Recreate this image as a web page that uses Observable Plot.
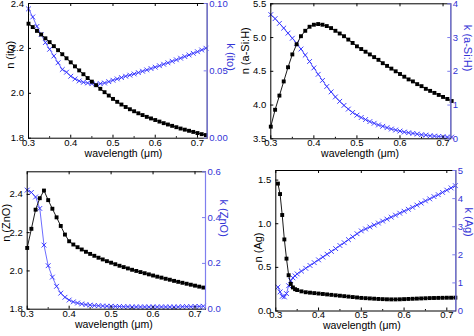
<!DOCTYPE html>
<html><head><meta charset="utf-8">
<script src="https://cdn.jsdelivr.net/npm/d3@7"></script>
<script src="https://cdn.jsdelivr.net/npm/@observablehq/plot@0.6"></script>
<style>
html,body{margin:0;padding:0;background:#fff;}
#fig{position:relative;width:474px;height:336px;overflow:hidden;background:#fff;}
#fig > div{position:absolute;width:237px;height:168px;}
#fig svg{display:block;}
</style></head><body><div id="fig"></div>
<script>
// wavelength (µm) shared by ITO, a-Si:H and ZnO
const wavelength = [0.30,0.31,0.32,0.33,0.34,0.35,0.36,0.37,0.38,0.39,0.40,0.41,0.42,0.43,0.44,0.45,0.46,0.47,0.48,0.49,0.50,0.51,0.52,0.53,0.54,0.55,0.56,0.57,0.58,0.59,0.60,0.61,0.62,0.63,0.64,0.65,0.66,0.67,0.68,0.69,0.70,0.71,0.72];
// wavelength (µm) for Ag
const wavelengthAg = [0.305,0.31,0.315,0.32,0.325,0.33,0.335,0.34,0.345,0.35,0.36,0.37,0.38,0.39,0.40,0.41,0.42,0.43,0.44,0.45,0.46,0.47,0.48,0.49,0.50,0.51,0.52,0.53,0.54,0.55,0.56,0.57,0.58,0.59,0.60,0.61,0.62,0.63,0.64,0.65,0.66,0.67,0.68,0.69,0.70,0.71,0.72];

const nITO = [2.310,2.295,2.278,2.262,2.245,2.228,2.210,2.192,2.174,2.156,2.138,2.120,2.102,2.085,2.068,2.052,2.036,2.020,2.005,1.990,1.975,1.962,1.950,1.939,1.929,1.920,1.911,1.903,1.895,1.888,1.881,1.874,1.867,1.861,1.855,1.849,1.843,1.838,1.833,1.828,1.823,1.818,1.814];
const kITO = [0.096,0.090,0.083,0.077,0.071,0.066,0.061,0.056,0.051,0.049,0.046,0.044,0.0425,0.0415,0.041,0.0405,0.040,0.0405,0.041,0.042,0.043,0.044,0.045,0.046,0.0468,0.0477,0.0487,0.0497,0.0507,0.0517,0.0527,0.0538,0.0549,0.056,0.0571,0.0582,0.0594,0.0606,0.0618,0.063,0.0642,0.0655,0.0668];

const nASi = [3.68,3.93,4.14,4.35,4.56,4.75,4.90,5.02,5.10,5.16,5.19,5.20,5.19,5.17,5.14,5.10,5.06,5.02,4.97,4.92,4.87,4.83,4.79,4.75,4.71,4.67,4.62,4.58,4.54,4.50,4.46,4.42,4.38,4.35,4.31,4.28,4.24,4.21,4.18,4.15,4.12,4.09,4.06];
const kASi = [3.68,3.56,3.42,3.28,3.13,2.98,2.83,2.66,2.48,2.29,2.10,1.91,1.73,1.55,1.39,1.24,1.11,0.99,0.88,0.78,0.70,0.63,0.57,0.51,0.46,0.41,0.37,0.33,0.29,0.26,0.23,0.20,0.18,0.16,0.14,0.12,0.11,0.09,0.08,0.07,0.06,0.05,0.05];

const nZnO = [2.12,2.22,2.32,2.38,2.42,2.37,2.325,2.28,2.235,2.19,2.155,2.138,2.124,2.112,2.100,2.089,2.079,2.069,2.060,2.051,2.043,2.035,2.027,2.020,2.013,2.006,2.000,1.994,1.988,1.982,1.976,1.970,1.965,1.959,1.954,1.948,1.943,1.938,1.933,1.928,1.923,1.918,1.913];
const kZnO = [0.52,0.51,0.49,0.44,0.28,0.19,0.14,0.10,0.07,0.052,0.040,0.032,0.027,0.023,0.020,0.018,0.016,0.015,0.014,0.013,0.013,0.012,0.012,0.011,0.011,0.010,0.010,0.010,0.010,0.010,0.010,0.010,0.010,0.010,0.010,0.010,0.010,0.011,0.011,0.011,0.012,0.012,0.013];

const nAg = [1.46,1.34,1.10,0.82,0.60,0.41,0.31,0.27,0.25,0.24,0.225,0.215,0.21,0.205,0.20,0.195,0.19,0.185,0.18,0.175,0.17,0.165,0.16,0.155,0.15,0.147,0.144,0.141,0.138,0.136,0.134,0.133,0.133,0.134,0.136,0.138,0.140,0.142,0.144,0.146,0.148,0.149,0.150,0.151,0.152,0.152,0.153];
const kAg = [0.85,0.68,0.52,0.50,0.62,0.90,1.08,1.18,1.25,1.32,1.42,1.52,1.62,1.72,1.82,1.92,2.02,2.12,2.22,2.33,2.43,2.54,2.64,2.75,2.85,2.92,2.99,3.06,3.13,3.20,3.27,3.34,3.41,3.48,3.55,3.62,3.69,3.77,3.84,3.92,3.99,4.07,4.14,4.22,4.30,4.38,4.46];

const xTickValues = [0.3,0.4,0.5,0.6,0.7];
const xMinorValues = [0.35,0.45,0.55,0.65];
const xTitle = "wavelength (μm)";

const BLUE = "#2c2cff";
const BLUE_TEXT = "#3333d6";
const BLUE_AXIS = "#7f7fee";
const FONT = "'Liberation Sans', Arial, Helvetica, sans-serif";

function panel(cfg) {
  const {wl, n, k, nDomain, kDomain, nTicks, kTicks, nFmt, kFmt, nLabel, kLabel, xMax, m, nPos, kPos, tPos, xLabDy} = cfg;
  const [n0, n1] = nDomain, [k0, k1] = kDomain;
  const toN = v => n0 + (v - k0) / (k1 - k0) * (n1 - n0);
  const toK = v => k0 + (v - n0) / (n1 - n0) * (k1 - k0);
  const data = wl.map((w, i) => ({w, n: n[i], k: k[i]}));
  const kTicksN = kTicks.map(toN);
  const fx = d3.format(".1f");
  return Plot.plot({
    width: 237, height: 168,
    marginLeft: m[0], marginRight: m[1], marginTop: m[2], marginBottom: m[3],
    style: {fontFamily: FONT, fontSize: "9.5px", overflow: "visible", background: "transparent", color: "black"},
    x: {domain: [0.3, xMax], axis: null},
    y: {domain: nDomain, axis: null},
    marks: [
      Plot.line(data, {x: "w", y: d => toN(d.k), stroke: BLUE, strokeWidth: 0.7}),
      Plot.dot(data, {x: "w", y: d => toN(d.k), symbol: "times", r: 2.3, stroke: BLUE, strokeWidth: 0.9}),
      Plot.line(data, {x: "w", y: "n", stroke: "black", strokeWidth: 0.9}),
      Plot.dot(data, {x: "w", y: "n", symbol: "square", r: 2.2, fill: "black", stroke: "none"}),
      Plot.frame({stroke: "black", strokeWidth: 1}),
      Plot.ruleX([xMax], {stroke: BLUE_AXIS, strokeWidth: 1.2}),
      // inward tick marks
      Plot.ruleX(xTickValues, {x: d => d, y1: () => n0, y2: () => n0, insetTop: -3, stroke: "black"}),
      Plot.ruleX(xMinorValues, {x: d => d, y1: () => n0, y2: () => n0, insetTop: -1.5, stroke: "black"}),
      Plot.ruleX(xTickValues, {x: d => d, y1: () => n1, y2: () => n1, insetBottom: -3, stroke: "black"}),
      Plot.ruleY(nTicks, {y: d => d, x1: () => 0.3, x2: () => 0.3, insetRight: -3, stroke: "black"}),
      Plot.ruleY(kTicksN, {y: d => d, x1: () => xMax, x2: () => xMax, insetLeft: -3, stroke: BLUE_AXIS}),
      // tick labels
      Plot.text(xTickValues, {x: d => d, text: d => fx(d), frameAnchor: "bottom", dy: xLabDy, lineAnchor: "middle"}),
      Plot.text(nTicks, {y: d => d, text: d => nFmt(d), frameAnchor: "left", dx: -4.5, textAnchor: "end"}),
      Plot.text(kTicksN, {y: d => d, text: d => kFmt(toK(d)), frameAnchor: "right", dx: 2, textAnchor: "start", fill: BLUE_TEXT}),
      // axis titles
      Plot.text([nLabel], {text: d => d, frameAnchor: "left", rotate: -90, dx: nPos[0], dy: nPos[1], fontSize: 11}),
      Plot.text([kLabel], {text: d => d, frameAnchor: "right", rotate: 90, dx: kPos[0], dy: kPos[1], fontSize: 11, fill: BLUE_TEXT}),
      Plot.text([xTitle], {text: d => d, frameAnchor: "bottom", dx: tPos[0], dy: tPos[1], fontSize: 10.5})
    ]
  });
}

const f1 = d3.format(".1f"), f2 = d3.format(".2f"), f0 = d3.format("d");
const panels = [
  {pos: [0, 0], wl: wavelength, n: nITO, k: kITO, nDomain: [1.8, 2.4], kDomain: [0, 0.1],
   nTicks: [1.8, 2.0, 2.2, 2.4], kTicks: [0, 0.05, 0.1], nFmt: f1, kFmt: f2,
   nLabel: "n (ito)", kLabel: "k (ito)", xMax: 0.723, m: [28, 30.3, 3, 30.3],
   nPos: [-18.5, -2], kPos: [23.3, 0], tPos: [5.6, 18.5], xLabDy: 4.3},
  {pos: [237, 0], wl: wavelength, n: nASi, k: kASi, nDomain: [3.5, 5.5], kDomain: [0, 4],
   nTicks: [3.5, 4.0, 4.5, 5.0, 5.5], kTicks: [0, 1, 2, 3, 4], nFmt: f1, kFmt: f0,
   nLabel: "n (a-Si:H)", kLabel: "k (a-Si:H)", xMax: 0.718, m: [33.3, 23.7, 3.3, 29.7],
   nPos: [-25, 3], kPos: [16.7, 0], tPos: [-0.8, 18], xLabDy: 4.3},
  {pos: [0, 168], wl: wavelength, n: nZnO, k: kZnO, nDomain: [1.8, 2.518], kDomain: [0, 0.6],
   nTicks: [1.8, 2.0, 2.2, 2.4], kTicks: [0, 0.2, 0.4, 0.6], nFmt: f1, kFmt: f1,
   nLabel: "n (ZnO)", kLabel: "k (ZnO)", xMax: 0.725, m: [26.7, 32, 3.3, 27.3],
   nPos: [-20.5, 1.3], kPos: [18, -3.7], tPos: [-2.5, 18.3], xLabDy: 4.3},
  {pos: [237, 168], wl: wavelengthAg, n: nAg, k: kAg, nDomain: [0, 1.61], kDomain: [0, 5],
   nTicks: [0, 0.5, 1.0, 1.5], kTicks: [0, 1, 2, 3, 4, 5], nFmt: f1, kFmt: f0,
   nLabel: "n (Ag)", kLabel: "k (Ag)", xMax: 0.721, m: [38.3, 18.7, 2, 25.5],
   nPos: [-17.3, 21.7], kPos: [12.7, -4], tPos: [-4, 17.6], xLabDy: 3.6}
];

const fig = document.getElementById("fig");
for (const p of panels) {
  const holder = document.createElement("div");
  holder.style.left = p.pos[0] + "px";
  holder.style.top = p.pos[1] + "px";
  holder.appendChild(panel(p));
  fig.appendChild(holder);
}
</script></body></html>
